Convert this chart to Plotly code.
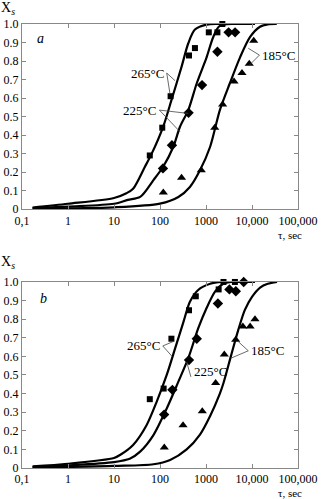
import numpy as np
import plotly.graph_objects as go

# ---------------- data ----------------
x_tickvals = [0.1, 1, 10, 100, 1000, 10000, 100000]
x_ticktext = ["0,1", "1", "10", "100", "1000", "10,000", "100,000"]
y_tickvals = [0, 0.1, 0.2, 0.3, 0.4, 0.5, 0.6, 0.7, 0.8, 0.9, 1.0]
y_ticktext = ["0", "0.1", "0.2", "0.3", "0.4", "0.5", "0.6", "0.7", "0.8", "0.9", "1.0"]

# panel a - experimental points
a_265_t = [60, 112, 170, 427, 575, 1150, 1770, 2265]
a_265_x = [0.29, 0.44, 0.61, 0.83, 0.87, 0.955, 0.955, 1.0]
a_225_t = [116, 182, 418, 820, 1770, 3100, 4290]
a_225_x = [0.22, 0.345, 0.52, 0.67, 0.85, 0.955, 0.955]
a_185_t = [118, 294, 790, 1550, 2300, 4070, 6060, 8720, 10900]
a_185_x = [0.09, 0.17, 0.21, 0.44, 0.565, 0.69, 0.735, 0.785, 0.91]

# panel a - model curves
a_265_ct = [0.17, 1, 10, 18.6, 26, 47, 66, 117, 178, 295, 412, 575, 1030, 2000, 11600]
a_265_cx = [0.009, 0.029, 0.06, 0.086, 0.11, 0.229, 0.30, 0.445, 0.59, 0.77, 0.896, 0.97, 0.997, 1.0, 1.0]
a_225_ct = [0.17, 1, 10, 20, 37, 72, 117, 195, 272, 412, 630, 1030, 1440, 2000, 11600]
a_225_cx = [0.005, 0.014, 0.029, 0.05, 0.066, 0.157, 0.229, 0.337, 0.445, 0.535, 0.68, 0.82, 0.93, 0.99, 1.0]
a_185_ct = [0.17, 10, 100, 251, 447, 740, 1230, 2000, 3300, 5500, 9100, 14900, 22000, 34600]
a_185_cx = [0.003, 0.01, 0.03, 0.066, 0.12, 0.21, 0.337, 0.535, 0.68, 0.82, 0.93, 0.985, 0.998, 1.0]

# panel b - experimental points
b_265_t = [60, 120, 177, 427, 600, 1885, 2400, 4250]
b_265_x = [0.37, 0.427, 0.695, 0.848, 0.923, 0.96, 1.0, 1.0]
b_225_t = [123, 186, 427, 630, 1815, 3230, 4450, 6600]
b_225_x = [0.287, 0.42, 0.58, 0.695, 0.884, 0.96, 0.95, 1.0]
b_185_t = [124, 317, 830, 1620, 2500, 4420, 6330, 9100, 11600]
b_185_x = [0.11, 0.23, 0.305, 0.457, 0.61, 0.69, 0.76, 0.76, 0.80]

# panel b - model curves
b_265_ct = [0.17, 1, 10, 13.5, 26, 51, 85, 140, 214, 325, 447, 676, 1230, 2200, 11600]
b_265_cx = [0.009, 0.023, 0.054, 0.07, 0.124, 0.23, 0.357, 0.5, 0.644, 0.787, 0.894, 0.957, 0.99, 1.0, 1.0]
b_225_ct = [0.17, 1, 10, 22, 37, 72, 140, 251, 412, 676, 1030, 1570, 2370, 3500, 11600]
b_225_cx = [0.005, 0.014, 0.032, 0.05, 0.088, 0.177, 0.32, 0.464, 0.59, 0.75, 0.86, 0.948, 0.99, 1.0, 1.0]
b_185_ct = [0.17, 10, 72, 166, 380, 740, 1230, 2000, 2400, 3470, 5000, 7000, 10000, 15000, 22000, 35000]
b_185_cx = [0.002, 0.011, 0.02, 0.043, 0.1, 0.18, 0.28, 0.40, 0.457, 0.60, 0.74, 0.85, 0.92, 0.97, 0.99, 1.0]

# temperature labels: (text, anchor side, text anchor point, leader vertex, leader targets)
labels_a = [
    ("265°C", "right", (133, 0.735), (140, 0.735), [(212, 0.694), (165, 0.622)]),
    ("225°C", "right", (92, 0.535), (97, 0.535), [(412, 0.517), (272, 0.418)]),
    ("185°C", "left", (15200, 0.832), (14500, 0.832), [(8300, 0.869), (8800, 0.778)]),
]
labels_b = [
    ("265°C", "right", (110, 0.656), (115, 0.656), [(195, 0.68), (180, 0.602)]),
    ("225°C", "left", (490, 0.518), (470, 0.49), [(380, 0.57)]),
    ("185°C", "left", (8700, 0.63), (8300, 0.63), [(5000, 0.68), (3470, 0.59)]),
]

# ---------------- figure ----------------
fig = go.Figure()
FONT = "Liberation Serif"


def add_panel(xa, ya, pts, curves):
    for t, x in curves:
        fig.add_trace(go.Scatter(x=t, y=x, mode="lines", xaxis=xa, yaxis=ya,
                                 line=dict(color="black", width=2.2, shape="spline", smoothing=0.8),
                                 showlegend=False, hoverinfo="skip", cliponaxis=False))
    for (t, x), sym, sz in zip(pts, ["square", "diamond", "triangle-up"], [6, 8, 8]):
        fig.add_trace(go.Scatter(x=t, y=x, mode="markers", xaxis=xa, yaxis=ya,
                                 marker=dict(symbol=sym, size=sz, color="black"),
                                 showlegend=False, cliponaxis=False))


add_panel("x", "y",
          [(a_265_t, a_265_x), (a_225_t, a_225_x), (a_185_t, a_185_x)],
          [(a_265_ct, a_265_cx), (a_225_ct, a_225_cx), (a_185_ct, a_185_cx)])
add_panel("x2", "y2",
          [(b_265_t, b_265_x), (b_225_t, b_225_x), (b_185_t, b_185_x)],
          [(b_265_ct, b_265_cx), (b_225_ct, b_225_cx), (b_185_ct, b_185_cx)])

annotations = []
shapes = []


def add_labels(labels, xr, yr):
    for text, side, (tx, ty), (vx, vy), targets in labels:
        annotations.append(dict(x=np.log10(tx), y=ty, xref=xr, yref=yr, text=text,
                                showarrow=False, xanchor=side, yanchor="middle",
                                font=dict(family=FONT, size=13, color="black")))
        for gx, gy in targets:
            shapes.append(dict(type="line", xref=xr, yref=yr, x0=vx, y0=vy, x1=gx, y1=gy,
                               line=dict(color="#444", width=0.8)))


add_labels(labels_a, "x", "y")
add_labels(labels_b, "x2", "y2")

for xr, yr, letter, lx, ly, tshift in [("x", "y", "a", 0.25, 0.92, -26), ("x2", "y2", "b", 0.3, 0.91, -25)]:
    annotations.append(dict(x=np.log10(lx), y=ly, xref=xr, yref=yr,
                            text="<i>%s</i>" % letter, showarrow=False,
                            font=dict(family=FONT, size=14, color="black")))
    annotations.append(dict(x=0, y=1, xref=xr + " domain", yref=yr + " domain",
                            text="X<sub><i>s</i></sub>", showarrow=False, xanchor="left",
                            yanchor="middle", xshift=-23, yshift=16 if letter == "a" else 19,
                            font=dict(family=FONT, size=14, color="black")))
    annotations.append(dict(x=1, y=0, xref=xr + " domain", yref=yr + " domain",
                            text="τ, sec", showarrow=False, xanchor="right",
                            yanchor="middle", xshift=6, yshift=tshift,
                            font=dict(family=FONT, size=11, color="black")))

axis_common = dict(showgrid=False, zeroline=False, showline=True, linecolor="#888",
                   linewidth=1, mirror="ticks", ticks="inside", ticklen=4, tickcolor="#888",
                   automargin=False,
                   tickfont=dict(family=FONT, size=12, color="black"))

fig.update_layout(
    width=324, height=499,
    margin=dict(l=22, r=26, t=24, b=31),
    paper_bgcolor="white", plot_bgcolor="white",
    xaxis=dict(type="log", range=[-1, 5], domain=[0, 1], anchor="y",
               tickvals=x_tickvals, ticktext=x_ticktext, **axis_common),
    yaxis=dict(range=[0, 1], domain=[0.583, 1], anchor="x",
               tickvals=y_tickvals, ticktext=y_ticktext, **axis_common),
    xaxis2=dict(type="log", range=[-1, 5], domain=[0, 1], anchor="y2",
                tickvals=x_tickvals, ticktext=x_ticktext, **axis_common),
    yaxis2=dict(range=[0, 1], domain=[0, 0.419], anchor="x2",
                tickvals=y_tickvals, ticktext=y_ticktext, **axis_common),
    annotations=annotations,
    shapes=shapes,
)

fig.write_html("out.html", config={"displayModeBar": False},
               post_script="document.body.style.margin='0px';document.body.style.overflow='hidden';")
